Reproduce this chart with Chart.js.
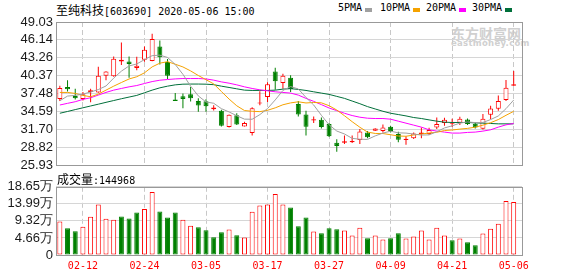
<!DOCTYPE html>
<html>
<head>
<meta charset="utf-8">
<script src="https://cdn.jsdelivr.net/npm/chart.js@4.4.0/dist/chart.umd.min.js"></script>
<style>
  body { margin: 0; background: #fff; width: 578px; height: 276px; position: relative; overflow: hidden; }
  .txt { position: absolute; white-space: nowrap; color: #000; line-height: 14px; }
  .cn { font: 12px "Noto Sans CJK SC", sans-serif; }
  .en { font: 10px "DejaVu Sans Mono", monospace; }
  .sw { position: absolute; width: 7px; height: 4px; top: 8px; }
  .wm1 { position: absolute; left: 451px; top: 23px; font: bold 14px "Noto Sans CJK SC", sans-serif; color: #d0d0d0; }
  .wm2 { position: absolute; left: 451px; top: 38px; font: bold 8.5px "DejaVu Sans", sans-serif; color: #d0d0d0; letter-spacing: 0.3px; }
  canvas { position: absolute; left: 0; }
  #kline { top: 0; }
  #vol { top: 176px; }
</style>
</head>
<body>
<div class="txt" style="left:56px; top:1px;"><span class="cn">至纯科技</span><span class="en">[603690] 2020-05-06 15:00</span></div>
<div id="legend"></div>
<div class="wm1">东方财富网</div>
<div class="wm2">eastmoney.com</div>
<canvas id="kline" width="578" height="176"></canvas>
<div class="txt" style="left:57px; top:170px;"><span class="cn">成交量</span><span class="en">:144968</span></div>
<canvas id="vol" width="578" height="100"></canvas>
<script>
// trading days shown (2020)
const dates = ['02-07','02-10','02-11','02-12','02-13','02-14','02-17','02-18','02-19','02-20','02-21','02-24','02-25','02-26','02-27','02-28',
  '03-02','03-03','03-04','03-05','03-06','03-09','03-10','03-11','03-12','03-13','03-16','03-17','03-18','03-19','03-20','03-23','03-24','03-25','03-26','03-27','03-30','03-31',
  '04-01','04-02','04-03','04-07','04-08','04-09','04-10','04-13','04-14','04-15','04-16','04-17','04-20','04-21','04-22','04-23','04-24','04-27','04-28','04-29','04-30',
  '05-06'];
const tickDates = ['02-12','02-24','03-05','03-17','03-27','04-09','04-21','05-06'];
const priceTicks = [25.93, 28.82, 31.70, 34.59, 37.48, 40.37, 43.26, 46.14, 49.03];
const volTicks = [0, 4.66, 9.32, 13.99, 18.65];

const open = [36.62,38.55,37.11,36.62,37.75,37.64,40.37,40.26,42.67,42.67,
  41.60,42.94,42.72,45.08,42.56,36.52,37.05,37.37,36.30,36.25,
  34.96,34.70,32.08,34.00,32.18,31.11,35.87,36.95,41.06,39.19,
  40.05,35.82,34.11,33.15,33.25,32.56,29.56,29.56,29.62,30.00,
  31.22,31.49,31.43,32.13,30.95,30.00,30.26,30.95,30.95,32.02,
  32.72,32.61,32.77,33.31,32.61,31.80,34.06,35.02,36.46,38.76];
const high = [38.76,39.62,38.28,37.75,38.28,41.81,41.10,43.47,45.72,43.47,
  43.42,45.08,47.15,46.03,43.05,37.59,37.48,38.55,36.73,36.57,
  35.60,34.86,34.10,34.32,32.93,35.28,37.85,39.30,41.65,40.69,
  40.42,36.30,34.70,33.79,33.63,32.72,30.10,30.74,30.74,31.75,
  31.43,31.90,32.50,32.29,31.33,30.58,31.22,32.02,31.97,33.63,
  33.57,33.41,33.73,33.47,32.77,34.17,35.50,37.16,39.67,41.12];
const low = [36.30,37.80,36.52,36.36,36.09,37.60,39.62,40.20,42.08,40.05,
  41.23,42.62,42.70,42.19,39.84,36.30,35.13,36.20,34.56,34.56,
  34.75,32.18,32.00,32.40,32.18,30.73,35.61,36.14,38.12,38.28,
  37.75,33.79,30.74,32.72,31.86,30.48,28.11,29.35,29.51,29.35,
  30.26,31.45,31.22,31.22,29.62,29.24,30.15,30.26,30.79,31.75,
  32.29,32.08,32.40,32.40,31.86,31.70,33.36,34.70,36.30,38.76];
const close = [38.39,38.18,36.73,37.37,38.01,40.37,41.06,43.10,42.94,42.24,
  41.97,44.55,46.30,43.36,40.37,36.30,36.62,36.73,35.55,35.45,
  35.23,32.29,34.06,32.50,32.72,35.12,36.03,38.98,39.46,40.37,
  38.23,34.11,32.13,33.36,32.08,30.58,29.03,29.78,29.85,31.38,
  30.42,31.86,32.02,31.43,30.04,30.20,31.06,31.22,31.59,32.56,
  33.25,32.77,33.41,32.56,32.02,33.41,35.07,36.30,38.44,38.98];

const ma5 = [36.33,37.08,37.19,37.40,37.74,38.13,38.71,39.98,41.10,41.94,
  42.26,42.96,43.60,43.68,43.31,42.18,40.59,38.68,37.11,36.13,
  35.92,35.05,34.52,33.91,33.36,33.34,34.09,35.07,36.46,37.99,
  38.61,38.23,36.86,35.64,33.98,32.45,31.44,30.97,30.26,30.12,
  30.09,30.66,31.11,31.42,31.15,31.11,30.95,30.79,30.82,31.33,
  31.94,32.28,32.72,32.91,32.80,32.83,33.29,33.87,35.05,36.44];
const ma10 = [37.67,37.67,37.51,37.19,36.97,37.40,38.04,38.68,39.27,39.84,
  40.20,40.83,41.79,42.39,42.63,42.22,41.78,41.14,40.40,39.72,
  39.05,37.82,36.60,35.51,34.75,34.63,34.57,34.79,35.18,35.68,
  35.98,36.16,35.97,36.05,35.99,35.53,34.83,33.91,32.95,32.05,
  31.27,31.05,31.04,30.84,30.64,30.60,30.80,30.95,31.12,31.24,
  31.52,31.61,31.75,31.87,32.06,32.39,32.79,33.29,33.98,34.62];
const ma20 = [35.64,35.91,36.17,36.55,36.81,37.24,37.67,38.04,38.31,38.57,
  38.78,39.11,39.42,39.64,39.75,39.85,39.91,39.91,39.91,39.85,
  39.65,39.37,39.16,38.89,38.57,38.31,38.09,37.93,37.77,37.67,
  37.56,37.24,36.71,36.23,35.70,35.16,34.73,34.31,33.94,33.67,
  33.51,33.46,33.46,33.35,33.03,32.71,32.39,32.07,31.64,31.43,
  31.27,31.11,31.11,31.22,31.27,31.43,31.64,32.07,32.44,32.66];
const ma30 = [34.31,34.60,34.90,35.19,35.48,35.77,36.07,36.36,36.65,36.92,
  37.19,37.61,38.04,38.41,38.68,38.89,39.00,39.02,39.02,39.00,
  38.92,38.68,38.47,38.25,38.04,37.99,37.99,37.99,38.04,38.20,
  38.28,38.15,37.99,37.77,37.56,37.35,37.03,36.71,36.28,35.85,
  35.38,35.00,34.63,34.31,34.10,33.88,33.62,33.46,33.24,33.03,
  32.87,32.82,32.82,32.82,32.76,32.71,32.66,32.60,32.60,32.60];

// volume in 万手
const volume = [9.19,7.30,6.49,7.75,10.45,13.79,9.91,9.64,10.54,10.00,
  11.62,12.61,17.21,11.89,10.27,11.62,9.64,8.02,7.57,6.76,
  4.87,6.22,6.94,5.41,4.78,11.80,13.51,13.79,16.67,13.79,
  12.97,7.84,10.27,6.40,5.95,7.30,7.03,6.67,5.32,7.48,
  4.60,5.32,4.23,4.60,5.95,4.50,5.05,6.67,4.23,7.48,
  5.32,4.05,4.50,3.51,2.70,5.86,7.21,8.56,14.78,14.4968];

const maNames = ['5PMA', '10PMA', '20PMA', '30PMA'];
const maColors = ['#a0a0a0', '#f5a200', '#ff00ff', '#006f3a'];
const RED = '#ff0000', GREEN = '#008000';

// legend on top right
const legendX = [338, 380, 426, 472];
const legend = document.getElementById('legend');
maNames.forEach((n, k) => {
  const t = document.createElement('div');
  t.className = 'txt en';
  t.style.left = legendX[k] + 'px';
  t.style.top = '2px';
  t.textContent = n;
  legend.appendChild(t);
  const s = document.createElement('div');
  s.className = 'sw';
  s.style.left = (legendX[k] + n.length * 6 + 3) + 'px';
  s.style.background = maColors[k];
  legend.appendChild(s);
});

const tickIdx = tickDates.map(d => dates.indexOf(d));
const candleUp = close.map((c, i) => c >= open[i]);
const volUp = close.map((c, i) => c >= (i ? close[i - 1] : open[i]));

// grey frame around each plot area
const frame = {
  id: 'frame',
  beforeDatasetsDraw(chart) {
    const { ctx, chartArea: a } = chart;
    ctx.save();
    ctx.strokeStyle = '#999';
    ctx.lineWidth = 1;
    ctx.strokeRect(Math.round(a.left) + 0.5, Math.round(a.top) + 0.5,
      Math.round(a.right - a.left), Math.round(a.bottom - a.top));
    ctx.restore();
  }
};

function xAxis(showLabels) {
  return {
    type: 'linear', min: -0.5, max: 60.08, offset: false,
    afterBuildTicks: s => { s.ticks = tickIdx.map(v => ({ value: v })); },
    afterFit: s => { s.height = showLabels ? 21 : 0; },
    grid: { color: '#c8c8c8', drawTicks: false, offset: false },
    border: { display: false, dash: [5, 3] },
    ticks: {
      display: showLabels, autoSkip: false, maxRotation: 0, padding: 5,
      color: RED, font: { family: 'DejaVu Sans Mono', size: 10 },
      callback: v => dates[v]
    }
  };
}

function yAxis(min, max, ticks, fmt) {
  return {
    min: min, max: max,
    afterBuildTicks: s => { s.ticks = ticks.map(v => ({ value: v })); },
    afterFit: s => { s.width = 56; },
    grid: { color: '#d6d6d6', drawTicks: false },
    border: { display: false },
    ticks: {
      autoSkip: false, padding: 3, color: '#1a1a1a',
      font: { family: 'Liberation Sans', size: 13 }, callback: fmt
    }
  };
}

const common = {
  responsive: false,
  animation: false,
  devicePixelRatio: 1,
  plugins: { legend: { display: false }, tooltip: { enabled: false } }
};

new Chart(document.getElementById('kline'), {
  type: 'bar',
  data: {
    datasets: [
      ...[ma5, ma10, ma20, ma30].map((arr, k) => ({
        type: 'line', label: maNames[k],
        data: arr.map((v, i) => ({ x: i, y: v })),
        borderColor: maColors[k], borderWidth: 1, pointRadius: 0, tension: 0, order: 0
      })),
      {
        label: 'body',
        data: dates.map((d, i) => ({ x: i, y: [open[i], close[i]] })),
        backgroundColor: candleUp.map(u => u ? '#ffffff' : GREEN),
        borderColor: candleUp.map(u => u ? RED : GREEN),
        borderWidth: 1, borderSkipped: false, inflateAmount: 0,
        barThickness: 5, grouped: false, order: 1
      },
      {
        label: 'wick',
        data: dates.map((d, i) => ({ x: i, y: [low[i], high[i]] })),
        backgroundColor: candleUp.map(u => u ? RED : GREEN),
        borderWidth: 0, inflateAmount: 0,
        barThickness: 1, grouped: false, order: 2
      }
    ]
  },
  options: {
    ...common,
    layout: { padding: { top: 22, right: 56, bottom: 10, left: 0 } },
    scales: {
      x: xAxis(false),
      y: yAxis(25.93, 49.03, priceTicks, v => v.toFixed(2))
    }
  },
  plugins: [frame]
});

new Chart(document.getElementById('vol'), {
  type: 'bar',
  data: {
    datasets: [{
      label: '成交量',
      data: volume.map((v, i) => ({ x: i, y: v })),
      backgroundColor: volUp.map(u => u ? '#ffffff' : GREEN),
      borderColor: volUp.map(u => u ? RED : GREEN),
      borderWidth: 1, borderSkipped: false, inflateAmount: 0,
      barThickness: 5, grouped: false
    }]
  },
  options: {
    ...common,
    layout: { padding: { top: 10, right: 56, bottom: 0, left: 0 } },
    scales: {
      x: xAxis(true),
      y: yAxis(0, 18.65, volTicks, v => v === 0 ? '0' : v.toFixed(2) + '万')
    }
  },
  plugins: [frame]
});
</script>
</body>
</html>
